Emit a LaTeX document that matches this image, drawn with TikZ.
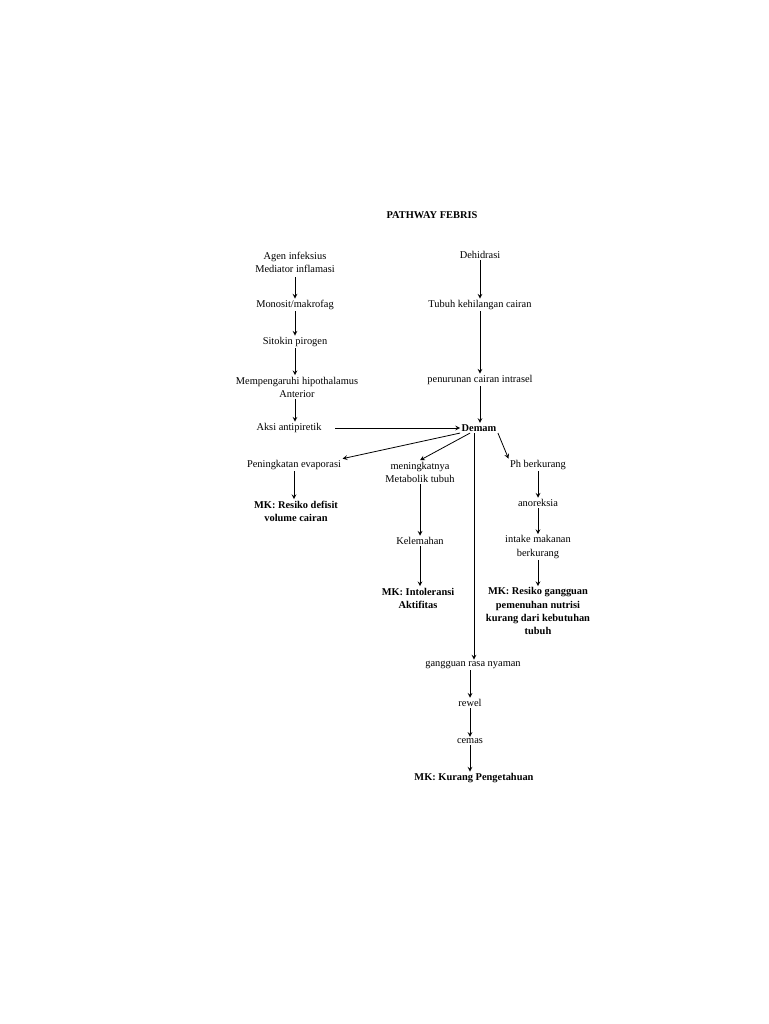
\documentclass[tikz,border=0pt]{standalone}
\usepackage{fontspec}
\setmainfont{Liberation Serif}
\begin{document}
\begin{tikzpicture}[x=0.75pt,y=-0.75pt,
  t/.style={inner sep=1pt,align=center,font=\fontsize{7.8}{9.8}\selectfont},
  b/.style={t,font=\fontsize{7.8}{9.8}\selectfont\bfseries},
  ar/.style={->,>=stealth,line width=0.6pt}]
\useasboundingbox (0,0) rectangle (768,1024);
\node[b] (title) at (432,215) {PATHWAY FEBRIS};
\node[t] (agen) at (295,262) {Agen infeksius\\Mediator inflamasi};
\node[t] (mono) at (295,305) {Monosit/makrofag};
\node[t] (sito) at (295,342) {Sitokin pirogen};
\node[t] (hipo) at (297,387) {Mempengaruhi hipothalamus\\Anterior};
\node[t] (aksi) at (289,428) {Aksi antipiretik};
\node[b] (demam) at (479,428) {Demam};
\node[t] (dehi) at (480,255) {Dehidrasi};
\node[t] (tubuh) at (480,305) {Tubuh kehilangan cairan};
\node[t] (penu) at (480,380) {penurunan cairan intrasel};
\node[t] (evap) at (294,465) {Peningkatan evaporasi};
\node[b] (mk1) at (296,511) {MK: Resiko defisit\\volume cairan};
\node[t] (meta) at (420,472) {meningkatnya\\Metabolik tubuh};
\node[t] (lemah) at (420,541) {Kelemahan};
\node[b] (mk2) at (418,598) {MK: Intoleransi\\Aktifitas};
\node[t] (ph) at (538,465) {Ph berkurang};
\node[t] (anor) at (538,503) {anoreksia};
\node[t] (intake) at (538,547) {intake makanan\\berkurang};
\node[b] (mk3) at (538,611) {MK: Resiko gangguan\\pemenuhan nutrisi\\kurang dari kebutuhan\\tubuh};
\node[t] (gang) at (473,665) {gangguan rasa nyaman};
\node[t] (rewel) at (470,703) {rewel};
\node[t] (cemas) at (470,741) {cemas};
\node[b] (mk4) at (474,778) {MK: Kurang Pengetahuan};
\draw[ar] (295,277) -- (mono.north -| 295,0);
\draw[ar] (mono) -- (mono |- sito.north);
\draw[ar] (sito) -- (sito |- hipo.north);
\draw[ar] (hipo.south -| 295,0) -- (aksi.north -| 295,0);
\draw[ar] (aksi.east) ++(12,0) -- (demam.west);
\draw[ar] (dehi) -- (dehi |- tubuh.north);
\draw[ar] (tubuh) -- (tubuh |- penu.north);
\draw[ar] (penu) -- (penu |- demam.north);
\draw[ar] (demam.south west) -- (evap.north east);
\draw[ar] (demam.south west) ++(10,0) -- (meta.north);
\draw[ar] (demam.south east) -- (ph.north west);
\draw[ar] (demam.south) ++(-5,0) coordinate (d0) -- (d0 |- gang.north);
\draw[ar] (evap) -- (evap |- mk1.north);
\draw[ar] (meta) -- (meta |- lemah.north);
\draw[ar] (lemah) -- (lemah |- mk2.north);
\draw[ar] (ph) -- (ph |- anor.north);
\draw[ar] (anor) -- (anor |- intake.north);
\draw[ar] (intake) -- (intake |- mk3.north);
\draw[ar] (gang.south -| rewel) -- (rewel);
\draw[ar] (rewel) -- (cemas);
\draw[ar] (cemas) -- (cemas |- mk4.north);
\end{tikzpicture}
\end{document}
